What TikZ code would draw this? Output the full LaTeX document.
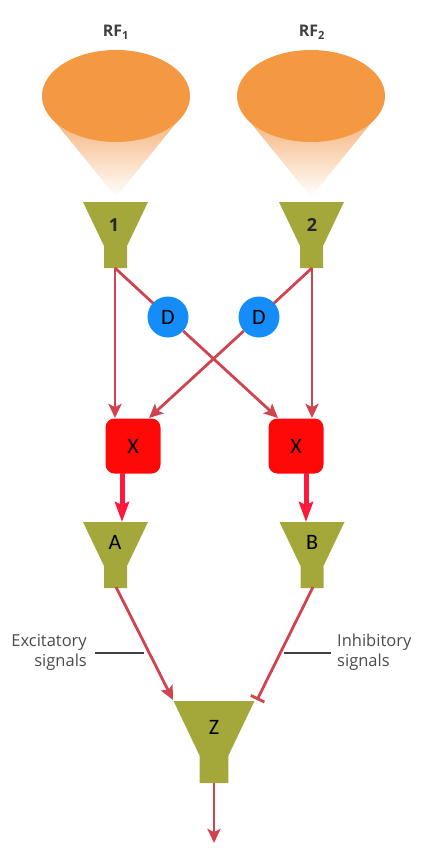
\documentclass[tikz,border=0pt]{standalone}
\usepackage{fontspec}
\setmainfont{Carlito}
\newfontfamily\osans{Open Sans}
\usetikzlibrary{arrows.meta,shapes.geometric}
\definecolor{olivef}{RGB}{164,168,58}
\definecolor{orangef}{RGB}{244,152,66}
\definecolor{conec}{RGB}{246,178,122}
\definecolor{blued}{RGB}{20,140,250}
\definecolor{redx}{RGB}{255,8,8}
\definecolor{arrowc}{RGB}{208,68,80}
\definecolor{thickc}{RGB}{255,25,60}
\definecolor{txtgray}{RGB}{75,75,75}
\begin{document}
\begin{tikzpicture}[x=1pt,y=-1pt,
  funnel/.pic={\fill[olivef] (-32.5,0) -- (32.5,0) -- (11.5,44) -- (11.5,66) -- (-11.5,66) -- (-11.5,44) -- cycle;},
  flabel/.style={inner sep=0pt, font=\fontsize{22}{22}\selectfont},
  fnum/.style={inner sep=0pt, font=\osans\bfseries\fontsize{18}{18}\selectfont, text=black!85},
  rfellipse/.style={ellipse, fill=orangef, minimum width=148pt, minimum height=92pt, inner sep=0pt},
  rflabel/.style={inner sep=0pt, font=\osans\bfseries\fontsize{16}{16}\selectfont, text=black!75},
  dnode/.style={circle, fill=blued, minimum size=41pt, inner sep=0pt, font=\fontsize{22}{22}\selectfont},
  xnode/.style={rectangle, rounded corners=9pt, fill=redx, minimum width=55pt, minimum height=55pt, inner sep=0pt, font=\fontsize{22}{22}\selectfont},
  thin/.style={draw=arrowc, line width=2.8pt, -{Stealth[length=14pt,width=13pt,inset=3pt]}},
  thinline/.style={draw=arrowc, line width=2.8pt},
  thick/.style={draw=thickc, line width=5pt, -{Stealth[length=20pt,width=14pt,inset=3pt]}},
  inhib/.style={draw=arrowc, line width=2.8pt, -{Bar[width=15pt,line width=2.8pt]}},
  leader/.style={draw=black!75, line width=1.6pt},
  sig/.style={inner sep=0pt, text=txtgray, font=\osans\fontsize{16.5}{20}\selectfont}
]
\useasboundingbox (0,0) rectangle (426,861);
% receptive fields
\shade[top color=conec, bottom color=white] (51,117) -- (181,117) -- (116,197) -- cycle;
\shade[top color=conec, bottom color=white] (246,117) -- (376,117) -- (311,197) -- cycle;
\node[rfellipse] (rf1) at (116,96) {};
\node[rfellipse] (rf2) at (311,96) {};
\node[rflabel] (rf1t) at (116,32) {RF\textsubscript{1}};
\node[rflabel] (rf2t) at (312,32) {RF\textsubscript{2}};
% funnels
\pic at (115.5,202) {funnel};
\pic at (311.5,202) {funnel};
\pic at (115.5,522) {funnel};
\pic at (312,522) {funnel};
\pic[scale=1.245] at (214,701) {funnel};
\node[fnum] (n1) at (114,225) {1};
\node[fnum] (n2) at (312,225) {2};
\node[flabel] (na) at (115,542) {A};
\node[flabel] (nb) at (312,542) {B};
\node[flabel] (nz) at (214,727) {Z};
\coordinate (f1b) at (115,268);
\coordinate (f2b) at (312,268);
\coordinate (ab) at (116,587);
\coordinate (bb) at (313,587);
\coordinate (zb) at (214,783);
\coordinate (ztl) at (173,700);
\coordinate (ztr) at (257,700);
\coordinate (out) at (214,843);
\coordinate (at) at (122,522);
\coordinate (bt) at (306,522);
% X boxes and D circles
\node[xnode] (x1) at (133,446) {X};
\node[xnode] (x2) at (296,446) {X};
\coordinate (x1l) at (115,418);
\coordinate (x1r) at (149,418);
\coordinate (x2l) at (278,418);
\coordinate (x2r) at (312,418);
\coordinate (x1b) at (122,473);
\coordinate (x2b) at (306,473);
% connectors
\draw[thin] (f1b) -- (x1l);
\draw[thin] (f2b) -- (x2r);
\draw[thinline] (f1b) -- (168,317) coordinate (d1c);
\draw[thinline] (f2b) -- (259,317) coordinate (d2c);
\node[dnode] (d1) at (d1c) {D};
\node[dnode] (d2) at (d2c) {D};
\draw[thin] (d1) -- (x2l);
\draw[thin] (d2) -- (x1r);
\draw[thick] (x1b) -- (at);
\draw[thick] (x2b) -- (bt);
\draw[thin] (ab) -- (ztl);
\draw[inhib] (bb) -- (ztr);
\draw[thin] (zb) -- (out);
% signal labels
\node[sig, anchor=east, align=right] (exc) at (87,652) {Excitatory\\signals};
\node[sig, anchor=west, align=left] (inh) at (337,652) {Inhibitory\\signals};
\coordinate (el1) at (95,653);
\coordinate (el2) at (144,653);
\coordinate (il1) at (284,653);
\coordinate (il2) at (331,653);
\draw[leader] (el1) -- (el2);
\draw[leader] (il1) -- (il2);
\end{tikzpicture}
\end{document}
